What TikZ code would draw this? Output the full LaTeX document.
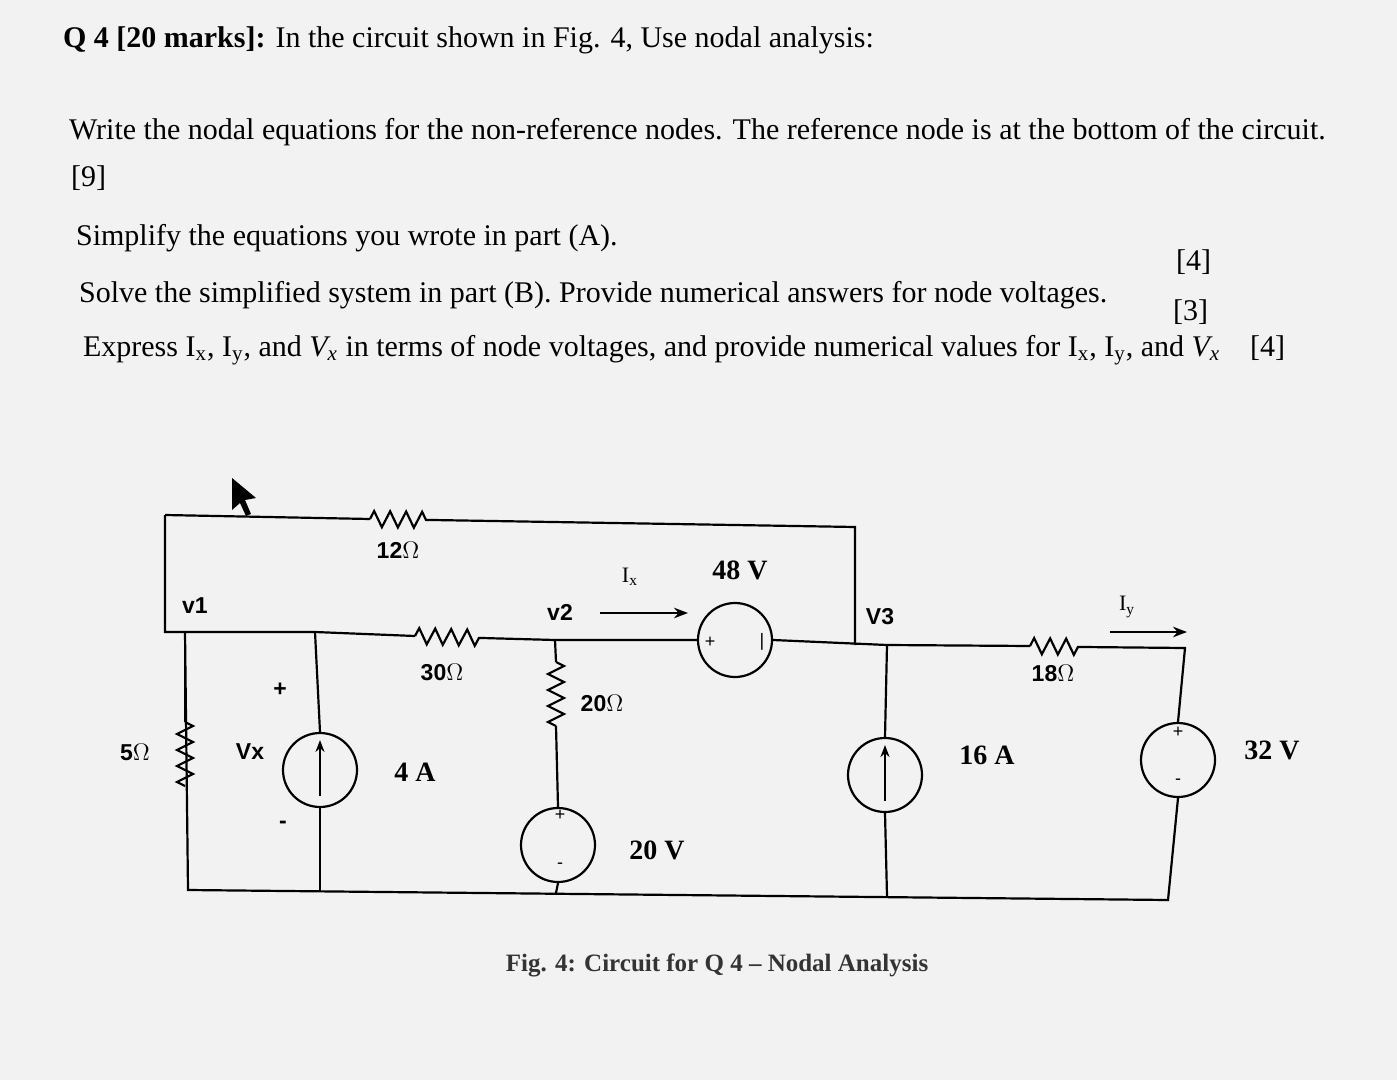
\documentclass[tikz,border=0pt]{standalone}
\usepackage{fontspec}
\setmainfont{Liberation Serif}
\newfontfamily\sans{Liberation Sans}
\usetikzlibrary{decorations.pathmorphing,arrows.meta}
\begin{document}
\begin{tikzpicture}[x=0.5pt,y=-0.5pt,line width=1.1pt,
  res/.style={decorate,decoration={zigzag,segment length=8pt,amplitude=4pt,pre length=0pt,post length=0pt}},
  src/.style={circle,draw,line width=1.1pt,minimum size=37pt,inner sep=0pt},
  qtext/.style={anchor=west,font=\fontsize{15}{17}\selectfont,inner sep=0pt},
  lab/.style={font=\sans\bfseries\fontsize{11.5}{13}\selectfont,inner sep=1pt},
  slab/.style={font=\bfseries\fontsize{14}{16}\selectfont,inner sep=1pt}]
\fill[gray!10] (0,0) rectangle (1397,1080);
\useasboundingbox (0,0) rectangle (1397,1080);
% texts
\node[qtext] (t1) at (62,40) {\textbf{Q 4 [20 marks]:} In the circuit shown in Fig. 4, Use nodal analysis:};
\node[qtext] (t2) at (68,132) {Write the nodal equations for the non-reference nodes. The reference node is at the bottom of the circuit.};
\node[qtext] (t3) at (70,178) {[9]};
\node[qtext] (t4) at (75,238) {Simplify the equations you wrote in part (A).};
\node[qtext] (t4b) at (1175,262) {[4]};
\node[qtext] (t5) at (78,295) {Solve the simplified system in part (B). Provide numerical answers for node voltages.};
\node[qtext] (t5b) at (1172,312) {[3]};
\node[qtext] (t6) at (82,350) {Express I\textsubscript{x}, I\textsubscript{y}, and \textit{V\textsubscript{x}} in terms of node voltages, and provide numerical values for I\textsubscript{x}, I\textsubscript{y}, and \textit{V\textsubscript{x}}\quad [4]};
% coordinates
\coordinate (tl) at (165,515);
\coordinate (r12a) at (370,519);
\coordinate (r12b) at (432,520);
\coordinate (tr) at (855,527);
\coordinate (v3) at (855,645);
\coordinate (lt) at (175,632);
\coordinate (n1) at (315,632);
\coordinate (r30a) at (415,636);
\coordinate (r30b) at (482,638);
\coordinate (n2) at (555,640);
\coordinate (n3) at (887,645);
\coordinate (r18a) at (1030,646);
\coordinate (r18b) at (1082,647);
\coordinate (rt) at (1185,648);
\coordinate (bl) at (188,890);
\coordinate (br) at (1168,900);
\coordinate (b1) at (320,891);
\coordinate (b2) at (556,893);
\coordinate (b3) at (887,896);
\coordinate (r5a) at (185,722);
\coordinate (r5b) at (185,786);
\coordinate (r20a) at (556,662);
\coordinate (r20b) at (556,726);
% sources
\node[src] (s4) at (320,770) {};
\node[src] (s20) at (558,845) {};
\node[src] (s48) at (735,640) {};
\node[src] (s16) at (885,775) {};
\node[src] (s32) at (1178,760) {};
% wires
\draw (tl) -- (r12a);
\draw[res] (r12a) -- (r12b);
\draw (r12b) -- (tr) -- (v3);
\draw (tl) -- (165,632) -- (lt) -- (n1) -- (r30a);
\draw[res] (r30a) -- (r30b);
\draw (r30b) -- (n2) -- (s48.west);
\draw (s48.east) -- (n3) -- (r18a);
\draw[res] (r18a) -- (r18b);
\draw (r18b) -- (rt) -- (s32.north);
\draw (s32.south) -- (br) -- (bl) -- (185,632);
\draw (185,632) -- (r5a); \draw[res] (r5a) -- (r5b);
\draw (n1) -- (s4.north); \draw (s4.south) -- (b1);
\draw (n2) -- (r20a); \draw[res] (r20a) -- (r20b); \draw (r20b) -- (s20.north); \draw (s20.south) -- (b2);
\draw (n3) -- (s16.north); \draw (s16.south) -- (b3);
% source symbols
\draw[-{Stealth[length=6pt]}] ([yshift=-13]s4.center) -- ([yshift=15]s4.center);
\draw[-{Stealth[length=6pt]}] ([yshift=-13]s16.center) -- ([yshift=15]s16.center);
\node[font=\sans\fontsize{9}{9}\selectfont] (p48) at (710,642) {+};
\node[font=\sans\fontsize{9}{9}\selectfont] (m48) at (762,642) {|};
\node[font=\sans\fontsize{9}{9}\selectfont] (p20) at (560,815) {+};
\node[font=\sans\fontsize{9}{9}\selectfont] (m20) at (560,866) {-};
\node[font=\sans\fontsize{9}{9}\selectfont] (p32) at (1178,732) {+};
\node[font=\sans\fontsize{9}{9}\selectfont] (m32) at (1178,782) {-};
% labels
\node[lab] (l12) at (398,550) {12$\Omega$};
\node[lab] (l30) at (442,672) {30$\Omega$};
\node[lab] (l20) at (602,703) {20$\Omega$};
\node[lab] (l18) at (1053,673) {18$\Omega$};
\node[lab] (l5) at (135,752) {5$\Omega$};
\node[lab] (lv1) at (195,606) {v1};
\node[lab] (lv2) at (560,612) {v2};
\node[lab] (lv3) at (880,617) {V3};
\node[lab] (lvx) at (250,752) {Vx};
\node[lab] (lvp) at (280,690) {+};
\node[lab] (lvm) at (283,825) {-};
\node[slab] (l4a) at (415,772) {4 A};
\node[slab] (l20v) at (657,850) {20 V};
\node[slab] (l48) at (740,570) {48 V};
\node[slab] (l16) at (987,755) {16 A};
\node[slab] (l32) at (1272,750) {32 V};
\node[font=\fontsize{11}{12}\selectfont] (lix) at (630,577) {I\textsubscript{x}};
\node[font=\fontsize{11}{12}\selectfont] (liy) at (1127,607) {I\textsubscript{y}};
\coordinate (ixa) at (600,613); \coordinate (ixb) at (688,613);
\coordinate (iya) at (1110,632); \coordinate (iyb) at (1187,632);
\draw[-{Stealth[length=7pt]}] (ixa) -- (ixb);
\draw[-{Stealth[length=7pt]}] (iya) -- (iyb);
\node[font=\bfseries\fontsize{12.5}{14}\selectfont,text=black!80] (cap) at (717,965) {Fig. 4: Circuit for Q 4 -- Nodal Analysis};
% mouse pointer
\fill (232,478) -- (256,498) -- (245,500) -- (251,514) -- (246,516) -- (240,503) -- (232,510) -- cycle;
\end{tikzpicture}
\end{document}
